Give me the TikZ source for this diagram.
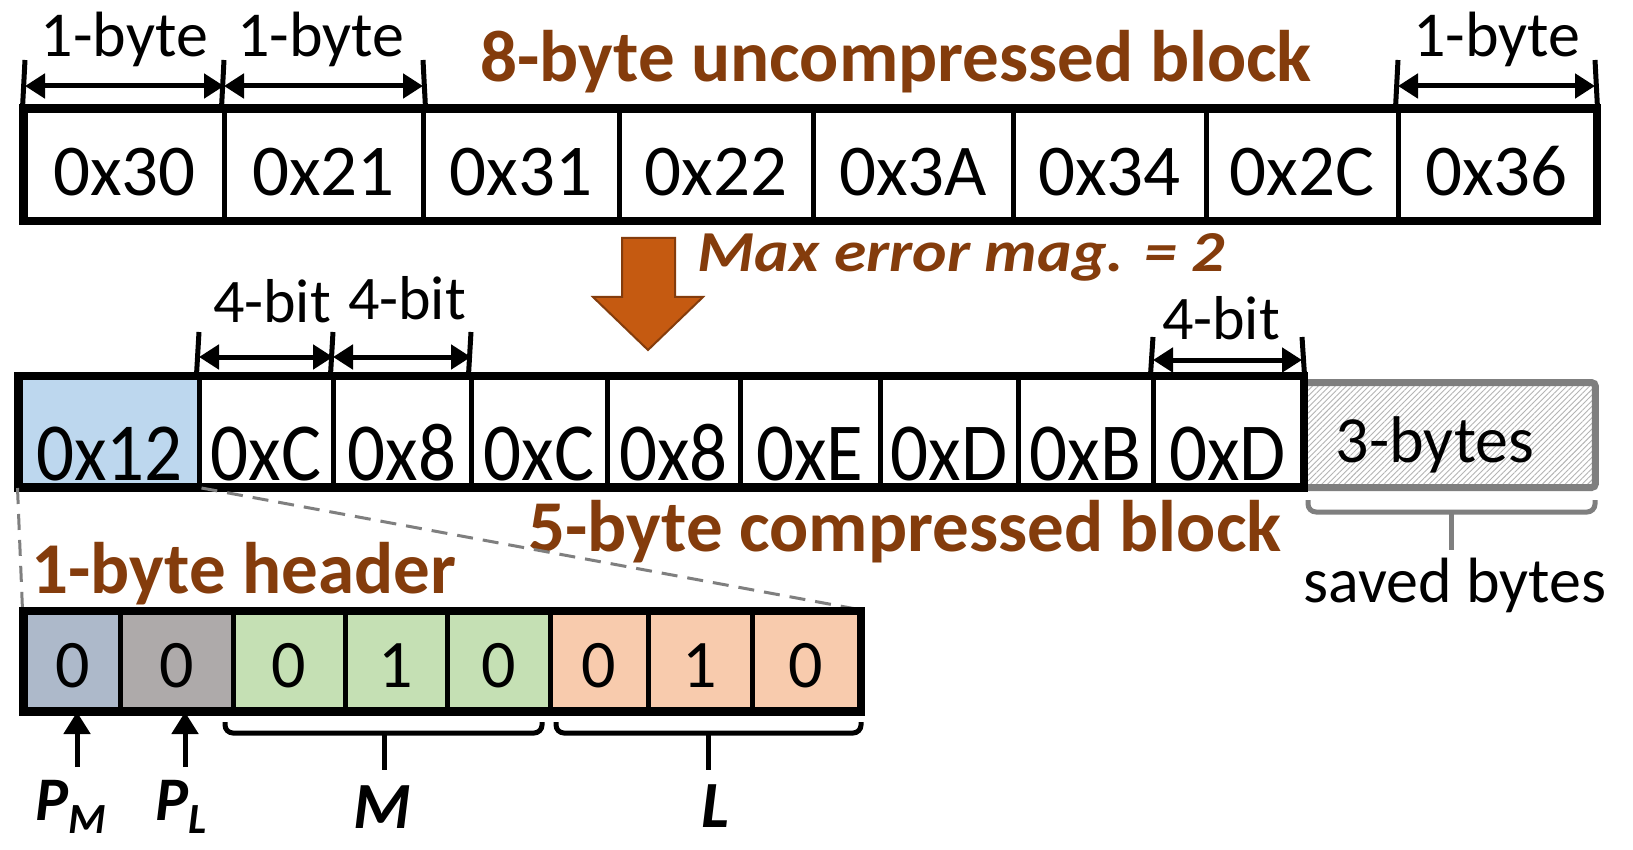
\documentclass[tikz,border=0pt]{standalone}
\usepackage{fontspec}
\setmainfont{Carlito}
\usepackage{graphicx}
\usetikzlibrary{arrows.meta,patterns.meta}
\definecolor{brn}{HTML}{843C0C}
\definecolor{org}{HTML}{C55A11}
\definecolor{bluec}{HTML}{BDD7EE}
\definecolor{pmc}{HTML}{ADB9CA}
\definecolor{plc}{HTML}{AEAAAA}
\definecolor{mgc}{HTML}{C5E0B4}
\definecolor{lc}{HTML}{F8CBAD}
\definecolor{grayln}{HTML}{7F7F7F}
\definecolor{hatchc}{HTML}{B4B4B4}
\begin{document}
\begin{tikzpicture}[x=0.5pt,y=-0.5pt,
  box/.style={draw=black, line width=2.5pt, inner sep=0pt, rectangle},
  topcell/.style={box, text height=42.5pt, text depth=12pt, font=\fontsize{36.5}{40}\selectfont},
  midcell/.style={box, text height=51.5pt, text depth=2.5pt, font=\fontsize{37.5}{40}\selectfont},
  hdrcell/.style={box, text height=37.5pt, text depth=11pt, font=\fontsize{34}{36}\selectfont},
  outer/.style={draw=black, line width=3.5pt},
  tickln/.style={line width=2.5pt},
  dimarr/.style={line width=2.5pt, {Triangle[length=10pt,width=12pt]}-{Triangle[length=10pt,width=12pt]}},
  bytelbl/.style={font=\fontsize{32}{34}\selectfont, inner sep=0pt, anchor=base},
  bitlbl/.style={font=\fontsize{31}{33}\selectfont, inner sep=0pt, anchor=base},
  ttl/.style={font=\fontsize{36.5}{40}\selectfont\bfseries, text=brn, inner sep=0pt, anchor=base west},
  dashln/.style={draw=grayln, line width=1.5pt, dash pattern=on 8pt off 5pt},
  uparr/.style={line width=2.5pt, -{Triangle[length=11pt,width=13pt]}},
  brc/.style={line width=2.5pt, rounded corners=4pt},
  plbl/.style={font=\fontsize{31}{33}\selectfont\bfseries\itshape, inner sep=0pt, anchor=base west}
]
\useasboundingbox (0,0) rectangle (1633,850);
\fill[white] (0,0) rectangle (1633,850);

% ---------- top row ----------
\foreach \a/\b/\txt/\nm in {25/224/0x30/t1,224/423/0x21/t2,423/619/0x31/t3,619/813/0x22/t4,813/1013/0x3A/t5,1013/1206/0x34/t6,1206/1398/0x2C/t7,1398/1595/0x36/t8}
  \node[topcell, minimum width={(\b-\a)*0.5pt}, anchor=south] (\nm) at ({(\a+\b)/2},222) {\txt};
\draw[outer] (t1.north west) rectangle (t8.south east);

\coordinate (k1) at (25,60);
\coordinate (k2) at (224,60);
\coordinate (k3) at (423,60);
\coordinate (k4) at (1398,60);
\coordinate (k5) at (1595,60);
\draw[tickln] (t1.north west) -- (k1);
\draw[tickln] (t2.north west) -- (k2);
\draw[tickln] (t2.north east) -- (k3);
\draw[tickln] (t8.north west) -- (k4);
\draw[tickln] (t8.north east) -- (k5);
\coordinate (d1) at (25,86);
\coordinate (d2) at (224,86);
\coordinate (d3) at (423,86);
\coordinate (d4) at (1398,86);
\coordinate (d5) at (1595,86);
\draw[dimarr] (d1) -- (d2);
\draw[dimarr] (d2) -- (d3);
\draw[dimarr] (d4) -- (d5);
\node[bytelbl] (b1) at (124.5,57) {1-byte};
\node[bytelbl] (b2) at (321,57) {1-byte};
\node[bytelbl] (b3) at (1497,57) {1-byte};

\node[ttl] (ttl1) at (480,82) {8-byte uncompressed block};

% ---------- arrow ----------
\draw[fill=org, draw=brn, line width=1pt] (622,238) -- (675,238) -- (675,297) -- (703,297) -- (648,350) -- (593,297) -- (622,297) -- cycle;
\node[anchor=base west, inner sep=0pt, text=brn] (mx) at (697,271)
  {\scalebox{1.13}[1]{\fontsize{29}{31}\selectfont\bfseries\itshape Max error mag. = 2}};

% ---------- middle row ----------
\node[draw=grayln, line width=3.5pt, rounded corners=2pt, inner sep=0pt,
      pattern={Lines[angle=45,distance=2pt,line width=0.45pt]}, pattern color=hatchc,
      minimum width=146.5pt, minimum height=52.5pt, anchor=south west] (sv) at (1302,488) {};
\node[bitlbl, font=\fontsize{33}{35}\selectfont] (svt) at (1435,462) {3-bytes};

\foreach \a/\b/\txt/\nm/\c in {20/199/0x12/m1/bluec,199/333/0xC/m2/white,333/471/0x8/m3/white,471/607/0xC/m4/white,607/740/0x8/m5/white,740/880/0xE/m6/white,880/1018/0xD/m7/white,1018/1153/0xB/m8/white,1153/1302/0xD/m9/white}
  \node[midcell, fill=\c, minimum width={(\b-\a)*0.5pt}, anchor=south] (\nm) at ({(\a+\b)/2},488) {\scalebox{1}[1.1]{\txt}};
\draw[outer] (m1.north west) rectangle (m9.south east);

\coordinate (q1) at (199,332);
\coordinate (q2) at (333,332);
\coordinate (q3) at (471,332);
\coordinate (q4) at (1153,337);
\coordinate (q5) at (1302,337);
\draw[tickln] (m2.north west) -- (q1);
\draw[tickln] (m3.north west) -- (q2);
\draw[tickln] (m4.north west) -- (q3);
\draw[tickln] (m9.north west) -- (q4);
\draw[tickln] (m9.north east) -- (q5);
\coordinate (e1) at (199,357);
\coordinate (e2) at (333,357);
\coordinate (e3) at (471,357);
\coordinate (e4) at (1153,360);
\coordinate (e5) at (1302,360);
\draw[dimarr] (e1) -- (e2);
\draw[dimarr] (e2) -- (e3);
\draw[dimarr] (e4) -- (e5);
\node[bitlbl] (f1) at (272,322) {4-bit};
\node[bitlbl] (f2) at (407,320) {4-bit};
\node[bitlbl] (f3) at (1221,339) {4-bit};

% saved bytes brace
\coordinate (s1) at (1308,500);
\coordinate (s2) at (1595,500);
\coordinate (s3) at (1451,512);
\coordinate (s4) at (1451,550);
\draw[brc, draw=grayln] (s1) -- (s1 |- s3) -- (s2 |- s3) -- (s2);
\draw[line width=2.5pt, draw=grayln] (s3) -- (s4);
\node[bytelbl] (svl) at (1455,602) {saved bytes};

\node[ttl] (ttl2) at (528,551) {5-byte compressed block};
\node[ttl] (ttl3) at (31,593) {1-byte header};

% ---------- header ----------
\foreach \a/\b/\txt/\nm/\c in {25/120/0/h1/pmc,120/233/0/h2/plc,233/345/0/h3/mgc,345/447/1/h4/mgc,447/550/0/h5/mgc,550/648/0/h6/lc,648/752/1/h7/lc,752/859/0/h8/lc}
  \node[hdrcell, fill=\c, minimum width={(\b-\a)*0.5pt}, anchor=south] (\nm) at ({(\a+\b)/2},712) {\txt};

\draw[dashln] (m1.south west) -- (h1.north west);
\draw[dashln] (m1.south east) -- (h8.north east);
\draw[outer] (h1.north west) rectangle (h8.south east);

\coordinate (u1) at (77,767);
\coordinate (u2) at (185,767);
\draw[uparr] (u1) -- (u1 |- h1.south);
\draw[uparr] (u2) -- (u2 |- h2.south);

\coordinate (mb1) at (225,722);
\coordinate (mb2) at (542,722);
\coordinate (mb3) at (384,733);
\coordinate (mb4) at (384,770);
\draw[brc] (mb1) -- (mb1 |- mb3) -- (mb2 |- mb3) -- (mb2);
\draw[line width=2.5pt] (mb3) -- (mb4);
\coordinate (lb1) at (556,722);
\coordinate (lb2) at (861,722);
\coordinate (lb3) at (708,733);
\coordinate (lb4) at (708,770);
\draw[brc] (lb1) -- (lb1 |- lb3) -- (lb2 |- lb3) -- (lb2);
\draw[line width=2.5pt] (lb3) -- (lb4);

\node[plbl] (pm) at (35,820) {P\raisebox{-6.5pt}{\fontsize{21.5}{22}\selectfont M}};
\node[plbl] (pl) at (155,820) {P\raisebox{-6.5pt}{\fontsize{21.5}{22}\selectfont L}};
\node[plbl, font=\fontsize{33}{35}\selectfont\bfseries\itshape, anchor=base] (ml) at (382,828) {M};
\node[plbl, font=\fontsize{33}{35}\selectfont\bfseries\itshape, anchor=base] (ll) at (715,827) {L};
\end{tikzpicture}
\end{document}
